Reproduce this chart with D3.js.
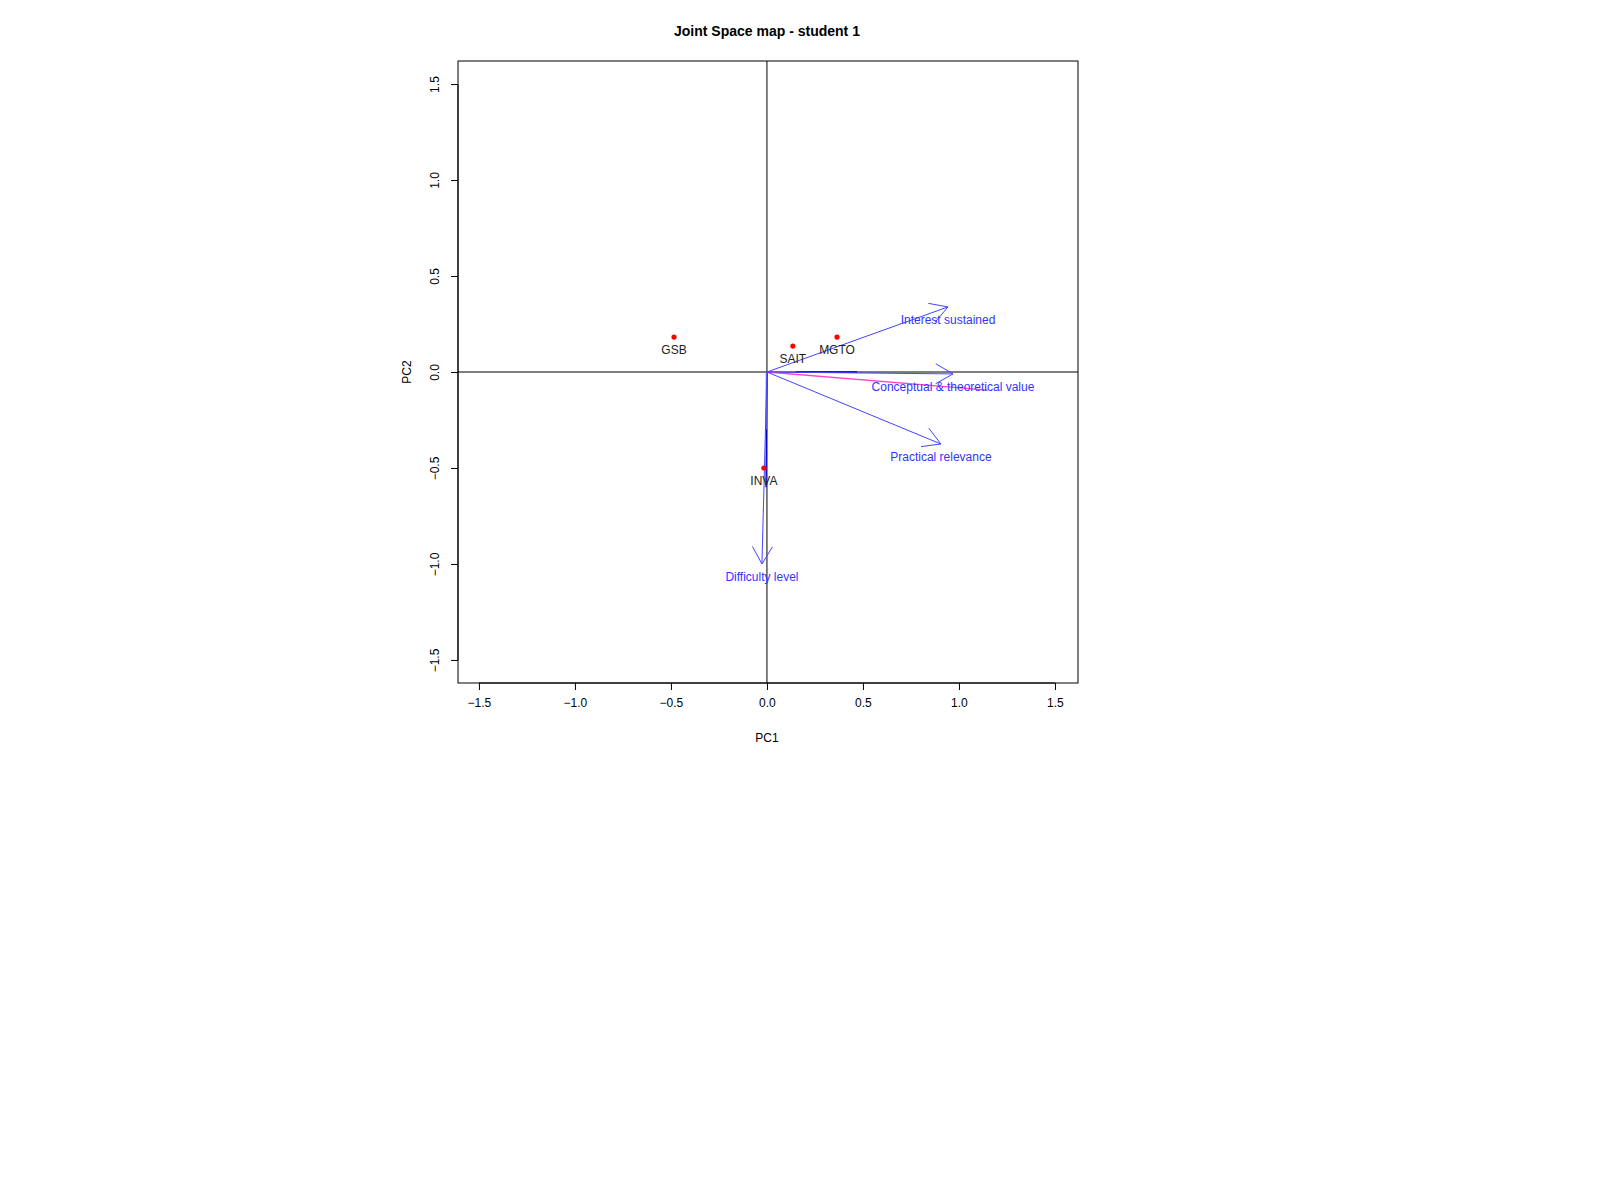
<!DOCTYPE html>
<html lang="en">
<head>
  <meta charset="UTF-8">
  <style>
    body { margin: 0; background: white; }
    text { font-family: "Liberation Sans", Arial, sans-serif; }
    .tick text { font-size: 12px; fill: #000; }
  </style>
</head>
<body>
  <script src="https://d3js.org/d3.v7.min.js"></script>
  <svg></svg>
  <script>
// courses (points)
const courses = ["GSB", "SAIT", "MGTO", "INVA"];
const courseX = [-0.484, 0.135, 0.365, -0.016];
const courseY = [0.182, 0.135, 0.182, -0.5];

// attributes (arrows)
const attrs = ["Interest sustained", "Conceptual & theoretical value", "Practical relevance", "Difficulty level"];
const attrX = [0.943, 0.969, 0.906, -0.026];
const attrY = [0.339, -0.01, -0.375, -1.0];

// extra overlapping segments visible in the picture
const segX1 = [0, 0.15, 0.0, -0.003];
const segY1 = [0, 0.0, 0, 0];
const segX2 = [1.151, 0.47, -0.005, -0.005];
const segY2 = [-0.094, 0.0, -0.6, -0.3];
const segCol = ["#ff44cc", "#0000cc", "#0000cc", "#8888ff"];

const ticks = [-1.5, -1.0, -0.5, 0.0, 0.5, 1.0, 1.5];

const w = 1600, h = 1200;
const svg = d3.select("svg").attr("width", w).attr("height", h);

const x = d3.scaleLinear().domain([-1.609, 1.62]).range([458, 1078]);
const y = d3.scaleLinear().domain([-1.62, 1.62]).range([683, 61]);

svg.append("rect")
   .attr("x", 458).attr("y", 61).attr("width", 620).attr("height", 622)
   .attr("fill", "none").attr("stroke", "#000");

// axes
const fmt = d3.format(".1f");
svg.append("g").attr("transform", "translate(0,683)")
   .call(d3.axisBottom(x).tickValues(ticks).tickFormat(fmt).tickSize(7).tickPadding(8))
   .call(g => g.select(".domain").attr("d", `M${x(-1.5)},0H${x(1.5)}`));
svg.append("g").attr("transform", "translate(458,0)")
   .call(d3.axisLeft(y).tickValues(ticks).tickFormat(fmt).tickSize(7).tickPadding(8))
   .call(g => g.select(".domain").attr("d", `M0,${y(-1.5)}V${y(1.5)}`))
   .call(g => g.selectAll(".tick text")
       .attr("text-anchor", "middle")
       .attr("transform", "rotate(-90)")
       .attr("x", 0).attr("dy", 0)
       .attr("y", -19));

// zero lines
svg.append("line").attr("x1", 458).attr("x2", 1078).attr("y1", y(0)).attr("y2", y(0)).attr("stroke", "#000");
svg.append("line").attr("y1", 61).attr("y2", 683).attr("x1", x(0)).attr("x2", x(0)).attr("stroke", "#000");

// extra segments
svg.selectAll(".seg").data(segX1).enter().append("line")
   .attr("x1", (d, i) => x(segX1[i])).attr("y1", (d, i) => y(segY1[i]))
   .attr("x2", (d, i) => x(segX2[i])).attr("y2", (d, i) => y(segY2[i]))
   .attr("stroke", (d, i) => segCol[i]).attr("stroke-width", 1.3);

// arrows
attrs.forEach((a, i) => {
  const x0 = x(0), y0 = y(0), x1 = x(attrX[i]), y1 = y(attrY[i]);
  const ang = Math.atan2(y1 - y0, x1 - x0);
  const L = 20, s = Math.PI / 6;
  svg.append("path")
     .attr("d", `M${x0},${y0}L${x1},${y1}M${x1 - L * Math.cos(ang - s)},${y1 - L * Math.sin(ang - s)}L${x1},${y1}L${x1 - L * Math.cos(ang + s)},${y1 - L * Math.sin(ang + s)}`)
     .attr("fill", "none").attr("stroke", "#4444ff").attr("stroke-width", 1);
  svg.append("text").attr("x", x1).attr("y", y1 + 17)
     .attr("text-anchor", "middle").attr("font-size", 12).attr("fill", "#3333ff").text(a);
});

// points
courses.forEach((c, i) => {
  svg.append("circle").attr("cx", x(courseX[i])).attr("cy", y(courseY[i])).attr("r", 2.6).attr("fill", "red");
  svg.append("text").attr("x", x(courseX[i])).attr("y", y(courseY[i]) + 17)
     .attr("text-anchor", "middle").attr("font-size", 12).attr("fill", "#222").text(c);
});

// titles
svg.append("text").attr("x", 767).attr("y", 36).attr("text-anchor", "middle")
   .attr("font-size", 14).attr("font-weight", "bold").text("Joint Space map - student 1");
svg.append("text").attr("x", 767).attr("y", 742).attr("text-anchor", "middle")
   .attr("font-size", 12).text("PC1");
svg.append("text").attr("transform", "translate(411,372) rotate(-90)").attr("text-anchor", "middle")
   .attr("font-size", 12).text("PC2");
  </script>
</body>
</html>
